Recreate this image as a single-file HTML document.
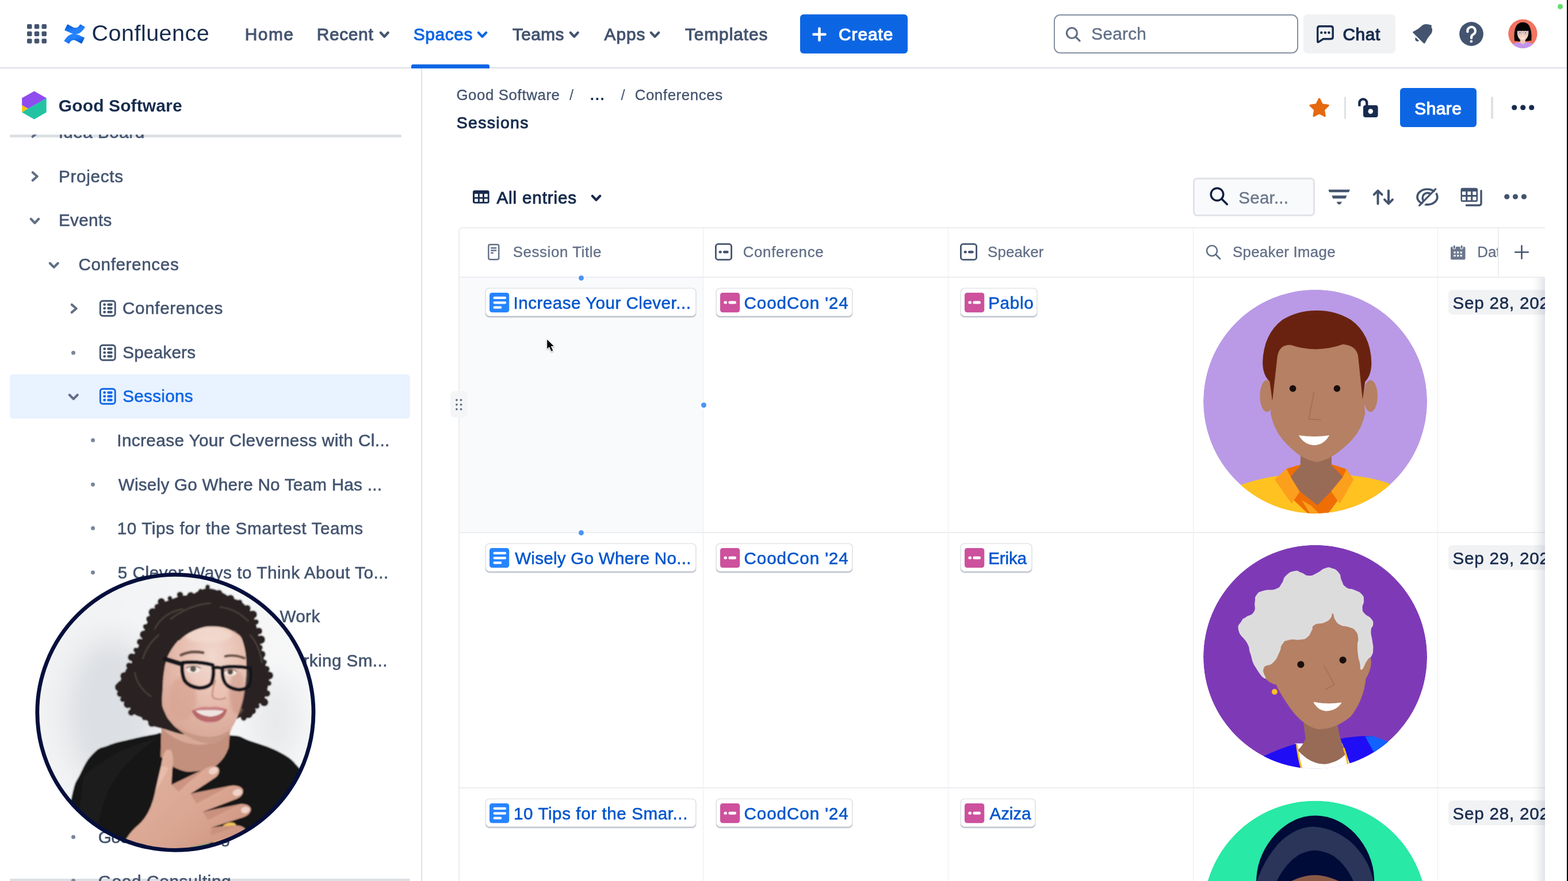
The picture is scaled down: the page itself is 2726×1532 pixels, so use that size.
<!DOCTYPE html>
<html lang="en"><head><meta charset="utf-8"><title>Sessions - Good Software - Confluence</title>
<style>
html,body{margin:0;padding:0;}
body{width:2726px;height:1532px;overflow:hidden;background:#fff;position:relative;font-family:"Liberation Sans",sans-serif;}
.t{position:absolute;white-space:nowrap;line-height:1;}
svg{overflow:visible;}
</style></head>
<body>
<div class="nav" style="position:absolute;left:0px;top:0px;width:2726px;height:119px;background:#fff;"><svg style="position:absolute;left:47px;top:42px;" width="34" height="33.5" viewBox="0 0 34 33.5"><rect x="0.00" y="0.00" width="8.5" height="8.3" rx="2" fill="#44546F"/><rect x="12.75" y="0.00" width="8.5" height="8.3" rx="2" fill="#44546F"/><rect x="25.50" y="0.00" width="8.5" height="8.3" rx="2" fill="#44546F"/><rect x="0.00" y="12.60" width="8.5" height="8.3" rx="2" fill="#44546F"/><rect x="12.75" y="12.60" width="8.5" height="8.3" rx="2" fill="#44546F"/><rect x="25.50" y="12.60" width="8.5" height="8.3" rx="2" fill="#44546F"/><rect x="0.00" y="25.20" width="8.5" height="8.3" rx="2" fill="#44546F"/><rect x="12.75" y="25.20" width="8.5" height="8.3" rx="2" fill="#44546F"/><rect x="25.50" y="25.20" width="8.5" height="8.3" rx="2" fill="#44546F"/></svg><svg style="position:absolute;left:110.8px;top:41.8px;" width="37.3" height="34.2" viewBox="0 0 37.3 34.2"><defs><linearGradient id="lg1" x1="0.1" y1="0" x2="0.75" y2="1"><stop offset="0" stop-color="#0052CC"/><stop offset="0.6" stop-color="#2380FB"/><stop offset="1" stop-color="#2684FF"/></linearGradient></defs><path d="M5.9 0.9 L1.5 9.5 Q1.1 10.4 2 10.9 L12.4 15.6 Q24.6 21.2 33.6 9.9 L36.6 5.7 Q37.1 5 36.4 4.5 L29.1 0.4 Q28.4 0 27.9 0.7 Q23.8 8.6 16.3 5.4 L7 0.5 Q6.3 0.1 5.9 0.9 Z" fill="url(#lg1)"/><path d="M5.9 0.9 L1.5 9.5 Q1.1 10.4 2 10.9 L12.4 15.6 Q24.6 21.2 33.6 9.9 L36.6 5.7 Q37.1 5 36.4 4.5 L29.1 0.4 Q28.4 0 27.9 0.7 Q23.8 8.6 16.3 5.4 L7 0.5 Q6.3 0.1 5.9 0.9 Z" fill="url(#lg1)" transform="rotate(180 18.65 17.1)"/></svg><span class="t" style="left:159.53px;top:37.56px;font-size:39.5px;color:#172B4D;letter-spacing:0.487px;">Confluence</span><span class="t" style="left:425.64px;top:44.77px;font-size:29.8px;color:#44546F;letter-spacing:1.586px;-webkit-text-stroke:1.05px #44546F;">Home</span><span class="t" style="left:550.64px;top:44.77px;font-size:29.8px;color:#44546F;letter-spacing:0.733px;-webkit-text-stroke:1.05px #44546F;">Recent</span><svg style="position:absolute;left:656.5px;top:52px;" width="22.5" height="16.5" viewBox="-3 -3 22.5 16.5"><path d="M1.80 1.80 L8.25 8.70 L14.70 1.80" fill="none" stroke="#44546F" stroke-width="4.2" stroke-linecap="round" stroke-linejoin="round"/></svg><span class="t" style="left:718.68px;top:44.77px;font-size:29.8px;color:#0C66E4;letter-spacing:0.690px;-webkit-text-stroke:1.05px #0C66E4;">Spaces</span><svg style="position:absolute;left:827px;top:52px;" width="23" height="16.5" viewBox="-3 -3 23 16.5"><path d="M1.80 1.80 L8.50 8.70 L15.20 1.80" fill="none" stroke="#0C66E4" stroke-width="4.2" stroke-linecap="round" stroke-linejoin="round"/></svg><span class="t" style="left:890.93px;top:44.77px;font-size:29.8px;color:#44546F;letter-spacing:0.457px;-webkit-text-stroke:1.05px #44546F;">Teams</span><svg style="position:absolute;left:987px;top:52px;" width="22.5" height="16.5" viewBox="-3 -3 22.5 16.5"><path d="M1.80 1.80 L8.25 8.70 L14.70 1.80" fill="none" stroke="#44546F" stroke-width="4.2" stroke-linecap="round" stroke-linejoin="round"/></svg><span class="t" style="left:1050.53px;top:44.77px;font-size:29.8px;color:#44546F;letter-spacing:1.016px;-webkit-text-stroke:1.05px #44546F;">Apps</span><svg style="position:absolute;left:1127px;top:52px;" width="23" height="16.5" viewBox="-3 -3 23 16.5"><path d="M1.80 1.80 L8.50 8.70 L15.20 1.80" fill="none" stroke="#44546F" stroke-width="4.2" stroke-linecap="round" stroke-linejoin="round"/></svg><span class="t" style="left:1190.93px;top:44.77px;font-size:29.8px;color:#44546F;letter-spacing:0.963px;-webkit-text-stroke:1.05px #44546F;">Templates</span><div style="position:absolute;left:1390.5px;top:25px;width:187.5px;height:68px;background:#0C66E4;border-radius:6px;"></div><svg style="position:absolute;left:1412px;top:46.5px;" width="25" height="25.5" viewBox="0 0 25 25.5"><path d="M12.5 2.5v20.5M2.5 12.75h20" stroke="#fff" stroke-width="4.6" stroke-linecap="round" fill="none"/></svg><span class="t" style="left:1458.11px;top:44.77px;font-size:29.8px;color:#fff;letter-spacing:0.946px;-webkit-text-stroke:1.2px #fff;">Create</span><div style="position:absolute;left:1832px;top:25px;width:425px;height:68px;box-sizing:border-box;border:2px solid #8590A2;border-radius:11px;background:#fff;"></div><svg style="position:absolute;left:1852px;top:45.5px;" width="28" height="28" viewBox="0 0 28 28"><circle cx="11.5" cy="11.5" r="9" fill="none" stroke="#626F86" stroke-width="3.2"/><path d="M18.2 18.2L25 25" stroke="#626F86" stroke-width="3.2" stroke-linecap="round"/></svg><span class="t" style="left:1897.36px;top:44.27px;font-size:29.8px;color:#626F86;letter-spacing:0.212px;-webkit-text-stroke:0.4px #626F86;">Search</span><div style="position:absolute;left:2266px;top:25px;width:160px;height:68px;background:#F1F2F4;border-radius:7px;"></div><svg style="position:absolute;left:2289px;top:43.9px;" width="30" height="31.2" viewBox="0 0 30 31.2"><path d="M5.2 1.7 H24.7 Q28.2 1.7 28.2 5.2 V20.3 Q28.2 23.8 24.7 23.8 H11.6 L3.6 28.9 Q1.7 30 1.7 27.9 V5.2 Q1.7 1.7 5.2 1.7 Z" fill="none" stroke="#172B4D" stroke-width="3.4" stroke-linejoin="round"/><circle cx="8.3" cy="12.8" r="2.25" fill="#172B4D"/><circle cx="14.9" cy="12.8" r="2.25" fill="#172B4D"/><circle cx="21.4" cy="12.8" r="2.25" fill="#172B4D"/></svg><span class="t" style="left:2334.41px;top:44.77px;font-size:29.8px;color:#172B4D;letter-spacing:0.620px;-webkit-text-stroke:1.2px #172B4D;">Chat</span><svg style="position:absolute;left:2440px;top:20px;" width="60" height="60" viewBox="0 0 60 60"><g transform="scale(0.06215)"><path d="M262 592 Q250 570 276 558 Q420 498 520 392 Q585 338 682 360 Q725 368 745 375 Q772 368 786 396 Q792 416 776 432 Q832 520 782 612 Q672 730 602 882 Q586 906 564 890 Z" fill="#44546F"/><path d="M340 724 L436 820 Q390 852 344 816 Q310 776 340 724 Z" fill="#44546F"/></g></svg><svg style="position:absolute;left:2536.1px;top:36.8px;" width="44" height="44" viewBox="-22 -22 44 44"><circle cx="0" cy="0" r="20.9" fill="#44546F"/><path d="M-6.6 -3.9 A6.8 6.8 0 1 1 2.9 1 Q0.1 2.7 0.1 5.2 L0.1 7.3" fill="none" stroke="#fff" stroke-width="4.3" stroke-linecap="round"/><circle cx="-0.1" cy="13" r="2.35" fill="#fff"/></svg><svg style="position:absolute;left:2526px;top:0px;" width="200" height="120" viewBox="0 0 200 120"><g transform="scale(0.08288)"><defs><clipPath id="cav0"><circle cx="1465" cy="707" r="306"/></clipPath></defs><g clip-path="url(#cav0)"><circle cx="1465" cy="707" r="306" fill="#F2735F"/><path d="M1290 860 Q1270 640 1330 540 Q1390 465 1465 468 Q1550 465 1600 540 Q1660 650 1645 850 L1520 870 L1400 870 Z" fill="#050505"/><path d="M1250 920 Q1330 885 1465 880 Q1600 885 1680 920 L1720 1030 L1200 1030 Z" fill="#C195EE"/><path d="M1415 830 L1515 830 L1522 890 Q1465 960 1405 890 Z" fill="#F2C4B2"/><path d="M1350 650 L1585 650 Q1590 780 1520 835 Q1465 870 1410 835 Q1340 780 1350 650 Z" fill="#F6D0C0"/><path d="M1335 660 Q1340 590 1400 600 L1400 640 L1420 605 L1440 640 L1500 600 L1515 640 L1545 605 L1560 645 Q1600 600 1595 670 L1600 640 Q1580 560 1465 555 Q1350 560 1335 660 Z" fill="#050505"/><circle cx="1405" cy="688" r="38" fill="rgba(255,255,255,0.25)" stroke="#8E8CC0" stroke-width="9"/><circle cx="1522" cy="688" r="38" fill="rgba(255,255,255,0.25)" stroke="#8E8CC0" stroke-width="9"/><path d="M1443 682 L1484 682" stroke="#8E8CC0" stroke-width="8"/><circle cx="1405" cy="686" r="11" fill="#1b1210"/><circle cx="1522" cy="686" r="11" fill="#1b1210"/><path d="M1428 790 Q1465 798 1502 790 Q1490 820 1465 820 Q1440 820 1428 790 Z" fill="#fff"/></g></g></svg></div>
<div style="position:absolute;left:0px;top:117px;width:2723.5px;height:2px;background:#DDDFE5;"></div>
<div style="position:absolute;left:714.5px;top:112px;width:136.5px;height:6.6px;background:#0C66E4;border-radius:3px 3px 0 0;"></div>
<div class="side" style="position:absolute;left:0px;top:119px;width:732px;height:1413px;background:#fff;overflow:hidden;"><div style="position:absolute;left:0px;top:-119px;width:732px;height:1532px;"><svg style="position:absolute;left:0px;top:0px;" width="100" height="220" viewBox="0 0 100 220"><polygon points="59.5,158.4 80.7,170.5 80.7,171 49,189 38.1,183 38.1,170.5" fill="#8F4CEF"/><polygon points="38.1,182.8 49.2,188.9 38.1,195.3" fill="#F5C518"/><polygon points="80.7,170.8 80.7,195.3 59.5,207.4 38.1,195.3 49,188.9" fill="#22C3A2"/></svg><span class="t" style="left:101.80px;top:169.10px;font-size:30px;color:#172B4D;font-weight:700;letter-spacing:0.121px;">Good Software</span><div style="position:absolute;left:17px;top:234px;width:681px;height:4.5px;background:#DCDFE4;border-radius:3px;"></div><div style="position:absolute;left:17px;top:1527.7px;width:696px;height:4.5px;background:#DCDFE4;border-radius:3px;"></div><div style="position:absolute;left:0px;top:234.2px;width:732px;height:1298px;overflow:hidden;"><div style="position:absolute;left:0px;top:-234.2px;width:732px;height:1532px;"><svg style="position:absolute;left:52px;top:218.5px;" width="17.5" height="23.5" viewBox="-3 -3 17.5 23.5"><path d="M1.80 1.80 L9.70 8.75 L1.80 15.70" fill="none" stroke="#626F86" stroke-width="4.2" stroke-linecap="round" stroke-linejoin="round"/></svg><span class="t" style="left:101.64px;top:215.44px;font-size:29.6px;color:#44546F;letter-spacing:0.527px;-webkit-text-stroke:0.6px #44546F;">Idea Board</span><svg style="position:absolute;left:52px;top:295px;" width="17.5" height="23.5" viewBox="-3 -3 17.5 23.5"><path d="M1.80 1.80 L9.70 8.75 L1.80 15.70" fill="none" stroke="#626F86" stroke-width="4.2" stroke-linecap="round" stroke-linejoin="round"/></svg><span class="t" style="left:101.93px;top:291.94px;font-size:29.6px;color:#44546F;letter-spacing:0.750px;-webkit-text-stroke:0.6px #44546F;">Projects</span><svg style="position:absolute;left:48.5px;top:375.5px;" width="23" height="16.5" viewBox="-3 -3 23 16.5"><path d="M1.80 1.80 L8.50 8.70 L15.20 1.80" fill="none" stroke="#626F86" stroke-width="4.2" stroke-linecap="round" stroke-linejoin="round"/></svg><span class="t" style="left:101.93px;top:368.44px;font-size:29.6px;color:#44546F;letter-spacing:0.395px;-webkit-text-stroke:0.6px #44546F;">Events</span><svg style="position:absolute;left:82px;top:452.5px;" width="23.5" height="16.5" viewBox="-3 -3 23.5 16.5"><path d="M1.80 1.80 L8.75 8.70 L15.70 1.80" fill="none" stroke="#626F86" stroke-width="4.2" stroke-linecap="round" stroke-linejoin="round"/></svg><span class="t" style="left:136.42px;top:444.94px;font-size:29.6px;color:#44546F;letter-spacing:0.648px;-webkit-text-stroke:0.6px #44546F;">Conferences</span><svg style="position:absolute;left:120px;top:525px;" width="17.5" height="23" viewBox="-3 -3 17.5 23"><path d="M1.80 1.80 L9.70 8.50 L1.80 15.20" fill="none" stroke="#626F86" stroke-width="4.2" stroke-linecap="round" stroke-linejoin="round"/></svg><svg style="position:absolute;left:173px;top:522px;" width="28.5" height="28.5" viewBox="0 0 28.5 28.5"><rect x="1.3" y="1.3" width="25.9" height="25.9" rx="4.2" fill="none" stroke="#44546F" stroke-width="2.9"/><rect x="6.4" y="5.50" width="4.6" height="4.2" rx="1.6" fill="#44546F"/><rect x="13.4" y="5.50" width="9.2" height="4.2" rx="1.6" fill="#44546F"/><rect x="6.4" y="12.00" width="4.6" height="4.2" rx="1.6" fill="#44546F"/><rect x="13.4" y="12.00" width="9.2" height="4.2" rx="1.6" fill="#44546F"/><rect x="6.4" y="18.50" width="4.6" height="4.2" rx="1.6" fill="#44546F"/><rect x="13.4" y="18.50" width="9.2" height="4.2" rx="1.6" fill="#44546F"/></svg><span class="t" style="left:213.12px;top:521.44px;font-size:29.6px;color:#44546F;letter-spacing:0.628px;-webkit-text-stroke:0.6px #44546F;">Conferences</span><div style="position:absolute;left:124px;top:609.5px;width:7px;height:7px;background:#7A869A;border-radius:50%;"></div><svg style="position:absolute;left:173px;top:598.5px;" width="28.5" height="28.5" viewBox="0 0 28.5 28.5"><rect x="1.3" y="1.3" width="25.9" height="25.9" rx="4.2" fill="none" stroke="#44546F" stroke-width="2.9"/><rect x="6.4" y="5.50" width="4.6" height="4.2" rx="1.6" fill="#44546F"/><rect x="13.4" y="5.50" width="9.2" height="4.2" rx="1.6" fill="#44546F"/><rect x="6.4" y="12.00" width="4.6" height="4.2" rx="1.6" fill="#44546F"/><rect x="13.4" y="12.00" width="9.2" height="4.2" rx="1.6" fill="#44546F"/><rect x="6.4" y="18.50" width="4.6" height="4.2" rx="1.6" fill="#44546F"/><rect x="13.4" y="18.50" width="9.2" height="4.2" rx="1.6" fill="#44546F"/></svg><span class="t" style="left:213.27px;top:597.94px;font-size:29.6px;color:#44546F;letter-spacing:0.244px;-webkit-text-stroke:0.6px #44546F;">Speakers</span><div style="position:absolute;left:17px;top:651px;width:696px;height:76.5px;background:#E9F2FF;border-radius:6px;"></div><svg style="position:absolute;left:116px;top:682px;" width="23.5" height="16.5" viewBox="-3 -3 23.5 16.5"><path d="M1.80 1.80 L8.75 8.70 L15.70 1.80" fill="none" stroke="#626F86" stroke-width="4.2" stroke-linecap="round" stroke-linejoin="round"/></svg><svg style="position:absolute;left:173px;top:675px;" width="28.5" height="28.5" viewBox="0 0 28.5 28.5"><rect x="1.3" y="1.3" width="25.9" height="25.9" rx="4.2" fill="none" stroke="#0C66E4" stroke-width="2.9"/><rect x="6.4" y="5.50" width="4.6" height="4.2" rx="1.6" fill="#0C66E4"/><rect x="13.4" y="5.50" width="9.2" height="4.2" rx="1.6" fill="#0C66E4"/><rect x="6.4" y="12.00" width="4.6" height="4.2" rx="1.6" fill="#0C66E4"/><rect x="13.4" y="12.00" width="9.2" height="4.2" rx="1.6" fill="#0C66E4"/><rect x="6.4" y="18.50" width="4.6" height="4.2" rx="1.6" fill="#0C66E4"/><rect x="13.4" y="18.50" width="9.2" height="4.2" rx="1.6" fill="#0C66E4"/></svg><span class="t" style="left:213.27px;top:674.44px;font-size:29.6px;color:#0C66E4;letter-spacing:0.299px;-webkit-text-stroke:0.6px #0C66E4;">Sessions</span><div style="position:absolute;left:158px;top:762.3px;width:7px;height:7px;background:#7A869A;border-radius:50%;"></div><span class="t" style="left:203.24px;top:751.44px;font-size:29.6px;color:#44546F;letter-spacing:0.446px;-webkit-text-stroke:0.6px #44546F;">Increase Your Cleverness with Cl...</span><div style="position:absolute;left:158px;top:838.8px;width:7px;height:7px;background:#7A869A;border-radius:50%;"></div><span class="t" style="left:205.75px;top:827.94px;font-size:29.6px;color:#44546F;letter-spacing:0.268px;-webkit-text-stroke:0.6px #44546F;">Wisely Go Where No Team Has ...</span><div style="position:absolute;left:158px;top:915.3px;width:7px;height:7px;background:#7A869A;border-radius:50%;"></div><span class="t" style="left:203.68px;top:904.44px;font-size:29.6px;color:#44546F;letter-spacing:0.637px;-webkit-text-stroke:0.6px #44546F;">10 Tips for the Smartest Teams</span><div style="position:absolute;left:158px;top:991.8px;width:7px;height:7px;background:#7A869A;border-radius:50%;"></div><span class="t" style="left:204.72px;top:980.94px;font-size:29.6px;color:#44546F;letter-spacing:0.570px;-webkit-text-stroke:0.6px #44546F;">5 Clever Ways to Think About To...</span><div style="position:absolute;left:158px;top:1068.3px;width:7px;height:7px;background:#7A869A;border-radius:50%;"></div><span class="t" style="left:177.33px;top:1057.44px;font-size:29.6px;color:#44546F;letter-spacing:0.438px;-webkit-text-stroke:0.6px #44546F;">The Smartest Ways to Work</span><div style="position:absolute;left:158px;top:1144.8px;width:7px;height:7px;background:#7A869A;border-radius:50%;"></div><span class="t" style="left:147.91px;top:1133.94px;font-size:29.6px;color:#44546F;letter-spacing:0.441px;-webkit-text-stroke:0.6px #44546F;">How to Keep Your Team Working Sm...</span><div style="position:absolute;left:124px;top:1451.8px;width:7.2px;height:7.2px;background:#7A869A;border-radius:50%;"></div><span class="t" style="left:170.82px;top:1440.94px;font-size:29.6px;color:#44546F;letter-spacing:-0.618px;-webkit-text-stroke:0.6px #44546F;">Good Engineering</span><div style="position:absolute;left:124px;top:1528.3px;width:7.2px;height:7.2px;background:#7A869A;border-radius:50%;"></div><span class="t" style="left:170.82px;top:1518.14px;font-size:29.6px;color:#44546F;letter-spacing:0.735px;-webkit-text-stroke:0.6px #44546F;">Good Consulting</span></div></div></div></div>
<div style="position:absolute;left:732px;top:119px;width:2px;height:1413px;background:#DFE1E6;"></div>
<span class="t" style="left:793.38px;top:153.16px;font-size:25.8px;color:#44546F;letter-spacing:0.626px;-webkit-text-stroke:0.35px #44546F;">Good Software</span>
<span class="t" style="left:990.00px;top:153.16px;font-size:25.8px;color:#44546F;">/</span>
<span class="t" style="left:1025.82px;top:153.16px;font-size:25.8px;color:#172B4D;font-weight:700;letter-spacing:1.720px;">...</span>
<span class="t" style="left:1079.50px;top:153.16px;font-size:25.8px;color:#44546F;">/</span>
<span class="t" style="left:1103.63px;top:153.16px;font-size:25.8px;color:#44546F;letter-spacing:0.631px;-webkit-text-stroke:0.35px #44546F;">Conferences</span>
<span class="t" style="left:793.72px;top:198.96px;font-size:28.4px;color:#172B4D;letter-spacing:1.353px;-webkit-text-stroke:1.0px #172B4D;">Sessions</span>
<svg style="position:absolute;left:2260px;top:145px;" width="60" height="70" viewBox="0 0 60 70"><g transform="scale(0.06215)"><polygon points="541.0,436.0 618.6,591.2 790.2,617.0 666.5,738.8 695.0,910.0 541.0,830.0 387.0,910.0 415.5,738.8 291.8,617.0 463.4,591.2" fill="#E56910" stroke="#E56910" stroke-width="52" stroke-linejoin="round"/></g></svg>
<div style="position:absolute;left:2336.5px;top:168px;width:3.5px;height:38.5px;background:#DFE1E6;border-radius:2px;"></div>
<svg style="position:absolute;left:0px;top:0px;" width="2420" height="220" viewBox="0 0 2420 220"><rect x="2370" y="182.9" width="25.6" height="21.2" rx="4" fill="#172B4D"/><circle cx="2382.8" cy="193.6" r="4.3" fill="#fff"/><path d="M2363.4 184.8 V178.8 A6.45 6.45 0 0 1 2376.3 178.8 V184" fill="none" stroke="#172B4D" stroke-width="4.3"/></svg>
<div style="position:absolute;left:2434px;top:153px;width:132.5px;height:68px;background:#0C66E4;border-radius:6px;"></div>
<span class="t" style="left:2459.26px;top:173.77px;font-size:29.8px;color:#fff;letter-spacing:0.516px;-webkit-text-stroke:1.2px #fff;">Share</span>
<div style="position:absolute;left:2592px;top:168px;width:3.5px;height:38.5px;background:#DFE1E6;border-radius:2px;"></div>
<svg style="position:absolute;left:2627.5px;top:182px;" width="39.5" height="10" viewBox="0 0 39.5 10"><circle cx="4.7" cy="5" r="4.6" fill="#172B4D"/><circle cx="19.7" cy="5" r="4.6" fill="#172B4D"/><circle cx="34.7" cy="5" r="4.6" fill="#172B4D"/></svg>
<svg style="position:absolute;left:822.1px;top:331.1px;" width="28.6" height="22.8" viewBox="0 0 28.6 22.8"><rect x="0" y="0" width="28.6" height="22.8" rx="3.2" fill="#172B4D"/><rect x="3.1" y="6.1" width="5.8" height="5.7" fill="#fff"/><rect x="3.1" y="14.6" width="5.8" height="5.4" fill="#fff"/><rect x="11.8" y="6.1" width="5.2" height="5.7" fill="#fff"/><rect x="11.8" y="14.6" width="5.2" height="5.4" fill="#fff"/><rect x="19.9" y="6.1" width="5.9" height="5.7" fill="#fff"/><rect x="19.9" y="14.6" width="5.9" height="5.4" fill="#fff"/></svg>
<span class="t" style="left:863.50px;top:328.94px;font-size:29.6px;color:#172B4D;letter-spacing:0.859px;-webkit-text-stroke:1.0px #172B4D;">All entries</span>
<svg style="position:absolute;left:1025px;top:336px;" width="23" height="16.5" viewBox="-3 -3 23 16.5"><path d="M1.80 1.80 L8.50 8.70 L15.20 1.80" fill="none" stroke="#172B4D" stroke-width="4.2" stroke-linecap="round" stroke-linejoin="round"/></svg>
<div style="position:absolute;left:2073.5px;top:309px;width:212px;height:66.5px;box-sizing:border-box;border:3px solid #E1E3E8;border-radius:7px;background:#F9FAFB;"></div>
<svg style="position:absolute;left:2102px;top:324px;" width="35" height="35" viewBox="0 0 35 35"><circle cx="14" cy="14" r="10.8" fill="none" stroke="#091E42" stroke-width="3.4"/><path d="M22 22L31.3 31.3" stroke="#091E42" stroke-width="3.6" stroke-linecap="round"/></svg>
<span class="t" style="left:2153.37px;top:328.69px;font-size:29.6px;color:#6B778C;letter-spacing:0.175px;-webkit-text-stroke:0.4px #6B778C;">Sear...</span>
<svg style="position:absolute;left:0px;top:0px;" width="2700" height="400" viewBox="0 0 2700 400"><path d="M2309.9 330 H2346.6 L2344.8 334 H2311 Z" fill="#44546F" stroke="#44546F" stroke-width="0.6" stroke-linejoin="round"/><path d="M2315.8 340.3 H2341 L2339.2 344.9 H2317.4 Z" fill="#44546F" stroke="#44546F" stroke-width="0.6" stroke-linejoin="round"/><path d="M2324.1 351.2 H2332.4 L2330.6 354.6 Q2328.2 355.8 2326 354.6 Z" fill="#44546F" stroke="#44546F" stroke-width="0.6" stroke-linejoin="round"/><path d="M2395.5 354.2 V332 M2388.7 338.4 L2395.5 331.6 L2402.6 338.4" fill="none" stroke="#44546F" stroke-width="4" stroke-linecap="round" stroke-linejoin="round"/><path d="M2414 331.5 V353.6 M2407 347.2 L2414 354.2 L2421 347.2" fill="none" stroke="#44546F" stroke-width="4" stroke-linecap="round" stroke-linejoin="round"/><ellipse cx="2481.4" cy="342.4" rx="17.4" ry="13.4" fill="none" stroke="#44546F" stroke-width="3.7"/><path d="M2476 350.5 A7 7 0 0 1 2487.5 337.6" fill="none" stroke="#44546F" stroke-width="3.6"/><path d="M2470.8 359.6 L2499.4 330.4" stroke="#fff" stroke-width="3.6"/><path d="M2467.6 357.4 L2495.8 328.6" stroke="#44546F" stroke-width="3.2" stroke-linecap="round"/><rect x="2539.5" y="326.8" width="29.6" height="24.3" rx="3.4" fill="#44546F"/><rect x="2542" y="333" width="6.2" height="6.0" fill="#fff"/><rect x="2542" y="342.1" width="6.2" height="6.2" fill="#fff"/><rect x="2551.3" y="333" width="5.9" height="6.0" fill="#fff"/><rect x="2551.3" y="342.1" width="5.9" height="6.2" fill="#fff"/><rect x="2560.3" y="333" width="6.2" height="6.0" fill="#fff"/><rect x="2560.3" y="342.1" width="6.2" height="6.2" fill="#fff"/><path d="M2575 331.8 V353.6 Q2575 357 2571.6 357 H2549.4" fill="none" stroke="#44546F" stroke-width="3.4" stroke-linecap="round"/></svg>
<svg style="position:absolute;left:2615px;top:337px;" width="39.5" height="10" viewBox="0 0 39.5 10"><circle cx="4.7" cy="5" r="4.6" fill="#44546F"/><circle cx="19.5" cy="5" r="4.6" fill="#44546F"/><circle cx="34.4" cy="5" r="4.6" fill="#44546F"/></svg>
<div style="position:absolute;left:780px;top:380px;width:1906px;height:1152px;overflow:hidden;"><div style="position:absolute;left:-780px;top:-380px;width:2726px;height:1600px;"><div style="position:absolute;left:798.5px;top:483px;width:424px;height:443px;background:#F9FAFB;"></div><div style="position:absolute;left:796.5px;top:394.5px;width:1895px;height:1200px;box-sizing:border-box;border:2px solid #ECEDF0;border-radius:7px;"></div><div style="position:absolute;left:798.5px;top:481.2px;width:1890px;height:1.7px;background:#ECEDF0;"></div><div style="position:absolute;left:798.5px;top:925.2px;width:1890px;height:1.7px;background:#ECEDF0;"></div><div style="position:absolute;left:798.5px;top:1369.2px;width:1890px;height:1.7px;background:#ECEDF0;"></div><div style="position:absolute;left:1221.7px;top:396.5px;width:1.7px;height:1200px;background:#ECEDF0;"></div><div style="position:absolute;left:1647.7px;top:396.5px;width:1.7px;height:1200px;background:#ECEDF0;"></div><div style="position:absolute;left:2073.7px;top:396.5px;width:1.7px;height:1200px;background:#ECEDF0;"></div><div style="position:absolute;left:2498.7px;top:396.5px;width:1.7px;height:1200px;background:#ECEDF0;"></div><svg style="position:absolute;left:847.75px;top:424px;" width="20.5" height="28.5" viewBox="0 0 20.5 28.5"><rect x="1.3" y="1.3" width="17.9" height="25.9" rx="2.6" fill="none" stroke="#626F86" stroke-width="2.4"/><path d="M5.2 7.2h10M5.2 11.5h10M5.2 15.8h4.6" stroke="#626F86" stroke-width="2.5" fill="none"/></svg><span class="t" style="left:891.76px;top:425.66px;font-size:25.8px;color:#626F86;letter-spacing:0.620px;-webkit-text-stroke:0.35px #626F86;">Session Title</span><svg style="position:absolute;left:1243px;top:423px;" width="30" height="30" viewBox="0 0 30 30"><rect x="1.4" y="1.4" width="27.2" height="27.2" rx="4.2" fill="none" stroke="#44546F" stroke-width="2.8"/><rect x="6.6" y="13" width="5.2" height="4.4" rx="2" fill="#44546F"/><rect x="14" y="13" width="9.6" height="4.4" rx="2" fill="#44546F"/></svg><span class="t" style="left:1291.63px;top:425.66px;font-size:25.8px;color:#626F86;letter-spacing:0.746px;-webkit-text-stroke:0.35px #626F86;">Conference</span><svg style="position:absolute;left:1668.5px;top:423px;" width="30" height="30" viewBox="0 0 30 30"><rect x="1.4" y="1.4" width="27.2" height="27.2" rx="4.2" fill="none" stroke="#44546F" stroke-width="2.8"/><rect x="6.6" y="13" width="5.2" height="4.4" rx="2" fill="#44546F"/><rect x="14" y="13" width="9.6" height="4.4" rx="2" fill="#44546F"/></svg><span class="t" style="left:1717.01px;top:425.66px;font-size:25.8px;color:#626F86;letter-spacing:0.204px;-webkit-text-stroke:0.35px #626F86;">Speaker</span><svg style="position:absolute;left:2095.5px;top:425px;" width="27" height="27" viewBox="0 0 27 27"><circle cx="11" cy="11" r="9" fill="none" stroke="#626F86" stroke-width="2.6"/><path d="M17.6 17.6L25 25" stroke="#626F86" stroke-width="2.8" stroke-linecap="round"/></svg><span class="t" style="left:2143.01px;top:425.66px;font-size:25.8px;color:#626F86;letter-spacing:0.296px;-webkit-text-stroke:0.35px #626F86;">Speaker Image</span><svg style="position:absolute;left:2522px;top:425.5px;" width="25.5" height="25.5" viewBox="0 0 25.5 25.5"><rect x="0" y="3" width="25.5" height="22.5" rx="2.6" fill="#6B778C"/><rect x="4.2" y="0" width="4.2" height="7" rx="2.1" fill="#6B778C" stroke="#fff" stroke-width="1.2"/><rect x="17" y="0" width="4.2" height="7" rx="2.1" fill="#6B778C" stroke="#fff" stroke-width="1.2"/><rect x="5.4" y="11.4" width="3.2" height="3.2" fill="#fff"/><rect x="11.0" y="11.4" width="3.2" height="3.2" fill="#fff"/><rect x="16.6" y="11.4" width="3.2" height="3.2" fill="#fff"/><rect x="5.4" y="17.0" width="3.2" height="3.2" fill="#fff"/><rect x="11.0" y="17.0" width="3.2" height="3.2" fill="#fff"/><rect x="16.6" y="17.0" width="3.2" height="3.2" fill="#fff"/></svg><span class="t" style="left:2568.36px;top:425.66px;font-size:25.8px;color:#626F86;-webkit-text-stroke:0.35px #626F86;">Date</span><div style="position:absolute;left:844.2px;top:501.2px;width:365.6px;height:48.6px;box-sizing:border-box;background:#fff;border:1px solid #E2E4E9;border-radius:7px;box-shadow:0 1.5px 1.5px rgba(9,30,66,0.26),0 0 1.5px rgba(9,30,66,0.22);"></div><svg style="position:absolute;left:851.0px;top:508.5px;" width="34.25" height="34.25" viewBox="0 0 34.25 34.25"><rect width="34.25" height="34.25" rx="4.6" fill="#2684FF"/><path d="M8.6 8.9h18.4M8.6 17.3h18.4M8.6 25.7h10.6" stroke="#fff" stroke-width="4.2" stroke-linecap="round" fill="none"/></svg><span class="t" style="left:892.61px;top:511.94px;font-size:29.6px;color:#0055CC;letter-spacing:0.477px;-webkit-text-stroke:0.55px #0055CC;">Increase Your Clever...</span><div style="position:absolute;left:1244.7px;top:501.2px;width:237.6px;height:48.6px;box-sizing:border-box;background:#fff;border:1px solid #E2E4E9;border-radius:7px;box-shadow:0 1.5px 1.5px rgba(9,30,66,0.26),0 0 1.5px rgba(9,30,66,0.22);"></div><svg style="position:absolute;left:1251.5px;top:508.5px;" width="34.25" height="34.25" viewBox="0 0 34.25 34.25"><rect width="34.25" height="34.25" rx="4.6" fill="#CD519D"/><rect x="6.4" y="14.6" width="5.6" height="5" rx="2.3" fill="#fff"/><rect x="14.4" y="14.6" width="13.6" height="5" rx="2.3" fill="#fff"/></svg><span class="t" style="left:1293.55px;top:511.94px;font-size:29.6px;color:#0055CC;letter-spacing:0.924px;-webkit-text-stroke:0.55px #0055CC;">CoodCon '24</span><div style="position:absolute;left:1670.2px;top:501.2px;width:133.1px;height:48.6px;box-sizing:border-box;background:#fff;border:1px solid #E2E4E9;border-radius:7px;box-shadow:0 1.5px 1.5px rgba(9,30,66,0.26),0 0 1.5px rgba(9,30,66,0.22);"></div><svg style="position:absolute;left:1677.0px;top:508.5px;" width="34.25" height="34.25" viewBox="0 0 34.25 34.25"><rect width="34.25" height="34.25" rx="4.6" fill="#CD519D"/><rect x="6.4" y="14.6" width="5.6" height="5" rx="2.3" fill="#fff"/><rect x="14.4" y="14.6" width="13.6" height="5" rx="2.3" fill="#fff"/></svg><span class="t" style="left:1718.16px;top:511.94px;font-size:29.6px;color:#0055CC;letter-spacing:0.718px;-webkit-text-stroke:0.55px #0055CC;">Pablo</span><div style="position:absolute;left:2517.75px;top:503.75px;width:200px;height:43.5px;background:#F1F2F4;border-radius:7px;"></div><span class="t" style="left:2525.42px;top:511.94px;font-size:29.6px;color:#172B4D;letter-spacing:0.782px;-webkit-text-stroke:0.5px #172B4D;">Sep 28, 2024</span><div style="position:absolute;left:844.2px;top:945.2px;width:365.6px;height:48.6px;box-sizing:border-box;background:#fff;border:1px solid #E2E4E9;border-radius:7px;box-shadow:0 1.5px 1.5px rgba(9,30,66,0.26),0 0 1.5px rgba(9,30,66,0.22);"></div><svg style="position:absolute;left:851.0px;top:952.5px;" width="34.25" height="34.25" viewBox="0 0 34.25 34.25"><rect width="34.25" height="34.25" rx="4.6" fill="#2684FF"/><path d="M8.6 8.9h18.4M8.6 17.3h18.4M8.6 25.7h10.6" stroke="#fff" stroke-width="4.2" stroke-linecap="round" fill="none"/></svg><span class="t" style="left:895.13px;top:955.94px;font-size:29.6px;color:#0055CC;letter-spacing:0.269px;-webkit-text-stroke:0.55px #0055CC;">Wisely Go Where No...</span><div style="position:absolute;left:1244.7px;top:945.2px;width:237.6px;height:48.6px;box-sizing:border-box;background:#fff;border:1px solid #E2E4E9;border-radius:7px;box-shadow:0 1.5px 1.5px rgba(9,30,66,0.26),0 0 1.5px rgba(9,30,66,0.22);"></div><svg style="position:absolute;left:1251.5px;top:952.5px;" width="34.25" height="34.25" viewBox="0 0 34.25 34.25"><rect width="34.25" height="34.25" rx="4.6" fill="#CD519D"/><rect x="6.4" y="14.6" width="5.6" height="5" rx="2.3" fill="#fff"/><rect x="14.4" y="14.6" width="13.6" height="5" rx="2.3" fill="#fff"/></svg><span class="t" style="left:1293.55px;top:955.94px;font-size:29.6px;color:#0055CC;letter-spacing:0.924px;-webkit-text-stroke:0.55px #0055CC;">CoodCon '24</span><div style="position:absolute;left:1670.2px;top:945.2px;width:123.6px;height:48.6px;box-sizing:border-box;background:#fff;border:1px solid #E2E4E9;border-radius:7px;box-shadow:0 1.5px 1.5px rgba(9,30,66,0.26),0 0 1.5px rgba(9,30,66,0.22);"></div><svg style="position:absolute;left:1677.0px;top:952.5px;" width="34.25" height="34.25" viewBox="0 0 34.25 34.25"><rect width="34.25" height="34.25" rx="4.6" fill="#CD519D"/><rect x="6.4" y="14.6" width="5.6" height="5" rx="2.3" fill="#fff"/><rect x="14.4" y="14.6" width="13.6" height="5" rx="2.3" fill="#fff"/></svg><span class="t" style="left:1718.16px;top:955.94px;font-size:29.6px;color:#0055CC;letter-spacing:-0.130px;-webkit-text-stroke:0.55px #0055CC;">Erika</span><div style="position:absolute;left:2517.75px;top:947.75px;width:200px;height:43.5px;background:#F1F2F4;border-radius:7px;"></div><span class="t" style="left:2525.42px;top:955.94px;font-size:29.6px;color:#172B4D;letter-spacing:0.782px;-webkit-text-stroke:0.5px #172B4D;">Sep 29, 2024</span><div style="position:absolute;left:844.2px;top:1389.2px;width:365.6px;height:48.6px;box-sizing:border-box;background:#fff;border:1px solid #E2E4E9;border-radius:7px;box-shadow:0 1.5px 1.5px rgba(9,30,66,0.26),0 0 1.5px rgba(9,30,66,0.22);"></div><svg style="position:absolute;left:851.0px;top:1396.5px;" width="34.25" height="34.25" viewBox="0 0 34.25 34.25"><rect width="34.25" height="34.25" rx="4.6" fill="#2684FF"/><path d="M8.6 8.9h18.4M8.6 17.3h18.4M8.6 25.7h10.6" stroke="#fff" stroke-width="4.2" stroke-linecap="round" fill="none"/></svg><span class="t" style="left:893.05px;top:1399.94px;font-size:29.6px;color:#0055CC;letter-spacing:0.584px;-webkit-text-stroke:0.55px #0055CC;">10 Tips for the Smar...</span><div style="position:absolute;left:1244.7px;top:1389.2px;width:237.6px;height:48.6px;box-sizing:border-box;background:#fff;border:1px solid #E2E4E9;border-radius:7px;box-shadow:0 1.5px 1.5px rgba(9,30,66,0.26),0 0 1.5px rgba(9,30,66,0.22);"></div><svg style="position:absolute;left:1251.5px;top:1396.5px;" width="34.25" height="34.25" viewBox="0 0 34.25 34.25"><rect width="34.25" height="34.25" rx="4.6" fill="#CD519D"/><rect x="6.4" y="14.6" width="5.6" height="5" rx="2.3" fill="#fff"/><rect x="14.4" y="14.6" width="13.6" height="5" rx="2.3" fill="#fff"/></svg><span class="t" style="left:1293.55px;top:1399.94px;font-size:29.6px;color:#0055CC;letter-spacing:0.924px;-webkit-text-stroke:0.55px #0055CC;">CoodCon '24</span><div style="position:absolute;left:1670.2px;top:1389.2px;width:130.1px;height:48.6px;box-sizing:border-box;background:#fff;border:1px solid #E2E4E9;border-radius:7px;box-shadow:0 1.5px 1.5px rgba(9,30,66,0.26),0 0 1.5px rgba(9,30,66,0.22);"></div><svg style="position:absolute;left:1677.0px;top:1396.5px;" width="34.25" height="34.25" viewBox="0 0 34.25 34.25"><rect width="34.25" height="34.25" rx="4.6" fill="#CD519D"/><rect x="6.4" y="14.6" width="5.6" height="5" rx="2.3" fill="#fff"/><rect x="14.4" y="14.6" width="13.6" height="5" rx="2.3" fill="#fff"/></svg><span class="t" style="left:1720.53px;top:1399.94px;font-size:29.6px;color:#0055CC;letter-spacing:-0.105px;-webkit-text-stroke:0.55px #0055CC;">Aziza</span><div style="position:absolute;left:2517.75px;top:1391.75px;width:200px;height:43.5px;background:#F1F2F4;border-radius:7px;"></div><span class="t" style="left:2525.42px;top:1399.94px;font-size:29.6px;color:#172B4D;letter-spacing:0.782px;-webkit-text-stroke:0.5px #172B4D;">Sep 28, 2024</span><svg style="position:absolute;left:2086px;top:498px;" width="400" height="400" viewBox="0 0 400 400"><defs><clipPath id="cav1"><circle cx="726" cy="725" r="704"/></clipPath></defs><g transform="scale(0.27624)"><g clip-path="url(#cav1)"><circle cx="726" cy="725" r="704" fill="#BA9AE6"/><path d="M255 1250 Q400 1200 520 1190 L950 1190 Q1100 1205 1200 1245 L1330 1460 L120 1460 Z" fill="#FFC220"/><path d="M545 1148 L632 1122 L838 1122 L922 1150 L965 1215 L800 1440 L690 1440 L585 1340 Z" fill="#EE6E05"/><path d="M633 1040 L633 1130 Q600 1160 572 1200 L628 1290 L740 1378 L826 1290 L900 1200 Q866 1160 829 1128 L829 1040 Z" fill="#986B57"/><path d="M545 1148 L470 1215 L578 1368 L628 1292 L572 1200 Z" fill="#FC9F1C"/><path d="M922 1150 L968 1215 L880 1368 L826 1290 L900 1200 Z" fill="#FC9F1C"/><path d="M640 1345 L700 1380 L760 1440 L700 1440 Z" fill="#FC9F1C"/><ellipse cx="422" cy="690" rx="44" ry="100" fill="#B58063"/><ellipse cx="1074" cy="690" rx="44" ry="100" fill="#B58063"/><path d="M470 400 Q600 330 735 350 Q870 330 1010 400 L1040 800 Q1015 930 902 1018 Q820 1092 735 1106 Q650 1092 573 1018 Q470 930 445 800 Z" fill="#B58063"/><path d="M456 722 L440 600 Q396 560 395 480 Q400 300 520 210 Q620 150 735 152 Q850 150 950 210 Q1075 300 1080 480 Q1080 560 1040 600 L1024 712 L996 440 Q985 372 900 365 Q735 424 570 368 Q500 366 488 440 Z" fill="#6A2210"/><circle cx="585" cy="643" r="21" fill="#1a0f0c"/><circle cx="863" cy="643" r="21" fill="#1a0f0c"/><path d="M718 665 L686 835 L760 840" fill="none" stroke="#986B57" stroke-width="4.5" stroke-linejoin="round" stroke-linecap="round"/><path d="M622 938 Q720 952 815 938 Q780 1000 715 1000 Q655 995 622 938 Z" fill="#fff"/></g></g></svg><svg style="position:absolute;left:2086px;top:942px;" width="400" height="400" viewBox="0 0 400 400"><defs><clipPath id="cav2"><circle cx="726" cy="725" r="704"/></clipPath></defs><g transform="scale(0.27624)"><g clip-path="url(#cav2)"><circle cx="726" cy="725" r="704" fill="#7E3AB6"/><path d="M600 1270 L950 1270 L960 1450 L620 1450 Z" fill="#fff"/><path d="M380 1360 Q500 1300 607 1272 L640 1440 L380 1440 Z" fill="#1F0EF5"/><path d="M885 1240 Q1000 1218 1090 1225 L1190 1262 L1100 1340 L945 1400 Z" fill="#1F0EF5"/><path d="M1040 1226 L1090 1224 L1195 1262 L1098 1330 Z" fill="#1162FE"/><path d="M652 1140 L665 1240 Q645 1290 615 1312 Q700 1405 790 1400 Q880 1385 922 1330 Q880 1260 868 1150 Z" fill="#986B57"/><path d="M610 1278 Q620 1360 640 1428" fill="none" stroke="#F9BB1E" stroke-width="11"/><path d="M905 1298 Q925 1350 932 1402" fill="none" stroke="#F9BB1E" stroke-width="11"/><path d="M400 800 Q460 760 490 700 Q520 630 620 615 Q680 590 720 525 Q800 500 840 450 Q880 520 960 550 Q1000 600 1000 700 L1020 800 Q1040 740 1075 730 Q1088 790 1045 862 Q1030 1000 950 1100 Q850 1185 740 1180 Q650 1160 570 1050 Q500 950 480 900 Q395 880 400 800 Z" fill="#B58063"/><path d="M1006 760 L996 716.8 L991.6 650 L996 605 L978 560 L937.6 537.7 L883.6 524 L852 492.7 L836.4 452 L820.6 483.7 L784.6 508.5 L721.6 524 L703.6 560 L676.6 600.7 L631.6 616.5 L559.6 618.7 L519 645.7 L501 695 L462 760 L402 796 L420 860 L700 1000 L1020 860 Z" fill="#B58063" stroke="#B58063" stroke-width="14" stroke-linejoin="round"/><path d="M412.0 862.0 C397.3 860.3 376.6 834.5 350.0 790.0 C323.4 745.5 332.7 747.5 318.0 705.0 C303.3 662.5 319.0 681.1 298.0 640.0 C277.0 598.9 254.2 599.7 244.0 560.0 C233.8 520.3 249.1 524.2 262.0 500.0 C274.9 475.8 267.8 490.8 289.6 474.7 C311.4 458.6 323.0 469.8 339.0 443.0 C355.0 416.2 340.8 410.6 345.9 380.0 C351.0 349.4 341.1 355.4 357.0 335.0 C372.9 314.6 367.5 318.8 402.0 308.0 C436.5 297.2 446.7 309.8 478.6 297.0 C510.5 284.2 496.8 286.6 514.6 263.0 C532.5 239.4 518.6 235.9 541.6 213.7 C564.6 191.5 567.6 189.6 595.6 184.5 C623.6 179.4 615.1 187.4 640.6 195.7 C666.1 204.0 657.6 213.7 685.6 213.7 C713.6 213.7 711.6 208.4 739.6 195.7 C767.6 182.9 759.1 177.0 784.6 168.7 C810.1 160.4 804.1 158.8 829.6 166.5 C855.1 174.2 856.8 173.5 874.6 195.7 C892.5 217.9 879.9 219.5 892.6 245.0 C905.4 270.5 896.6 269.1 919.6 285.7 C942.6 302.3 945.6 290.9 973.6 303.7 C1001.6 316.4 1002.1 311.6 1018.6 330.7 C1035.1 349.8 1030.8 346.8 1032.0 371.0 C1033.2 395.2 1021.7 393.1 1023.0 416.0 C1024.3 438.9 1021.3 432.8 1036.6 452.0 C1051.9 471.2 1061.7 464.5 1077.0 483.7 C1092.3 502.9 1090.6 498.1 1090.6 519.7 C1090.6 541.3 1078.3 529.4 1077.0 560.0 C1075.7 590.6 1082.1 595.8 1086.0 627.7 C1089.9 659.6 1091.8 647.5 1090.6 672.7 C1089.4 697.9 1092.5 695.5 1081.6 716.8 C1070.7 738.1 1070.0 722.7 1052.0 748.0 C1034.0 773.3 1031.0 802.6 1018.0 806.0 C1005.0 809.4 1012.2 785.3 1006.0 760.0 C999.8 734.7 1000.1 748.0 996.0 716.8 C991.9 685.6 991.6 681.7 991.6 650.0 C991.6 618.3 999.9 630.5 996.0 605.0 C992.1 579.5 994.5 579.1 978.0 560.0 C961.5 540.9 964.3 547.9 937.6 537.7 C910.9 527.5 907.9 536.8 883.6 524.0 C859.3 511.2 865.4 513.1 852.0 492.7 C838.6 472.3 845.3 454.6 836.4 452.0 C827.5 449.4 835.3 467.7 820.6 483.7 C805.9 499.7 812.6 497.1 784.6 508.5 C756.6 519.9 744.6 509.4 721.6 524.0 C698.6 538.6 716.4 538.3 703.6 560.0 C690.9 581.7 697.0 584.7 676.6 600.7 C656.2 616.7 664.8 611.4 631.6 616.5 C598.5 621.6 591.5 610.4 559.6 618.7 C527.7 627.0 535.6 624.1 519.0 645.7 C502.4 667.3 517.1 662.6 501.0 695.0 C484.9 727.4 490.1 731.4 462.0 760.0 C433.9 788.6 416.2 767.1 402.0 796.0 C387.8 824.9 426.7 863.7 412.0 862.0 Z" fill="#DDDCDD"/><circle cx="470" cy="945" r="18" fill="#FBBF24"/><circle cx="635" cy="773" r="22" fill="#1a0f0c"/><circle cx="900" cy="745" r="22" fill="#1a0f0c"/><path d="M782 780 L846 900 L790 930" fill="none" stroke="#986B57" stroke-width="4" stroke-linejoin="round" stroke-linecap="round"/><path d="M714 1008 Q800 1026 893 1012 Q860 1066 790 1066 Q740 1060 714 1008 Z" fill="#fff"/></g></g></svg><svg style="position:absolute;left:2086px;top:1332px;" width="400" height="200" viewBox="0 0 400 200"><defs><clipPath id="cav3"><circle cx="1290" cy="1643" r="1253"/></clipPath></defs><g transform="scale(0.15528)"><g clip-path="url(#cav3)"><circle cx="1290" cy="1643" r="1253" fill="#28E9A5"/><path d="M632 1300 Q632 1000 850 760 Q1050 556 1290 556 Q1540 556 1740 760 Q1955 1000 1952 1300 Z" fill="#010B38"/><path d="M636 1300 Q700 1080 870 880 Q1050 690 1260 680 Q1500 688 1700 860 Q1900 1050 1945 1300 Z" fill="#2B3459"/><path d="M855 1300 Q950 1100 1100 1000 Q1200 945 1290 945 Q1400 950 1500 1010 Q1650 1120 1722 1300 Z" fill="#010B38"/><path d="M1000 1300 Q1150 1222 1290 1222 Q1430 1225 1580 1300 Z" fill="#8A5A47"/></g></g></svg><div style="position:absolute;left:2664px;top:483px;width:22px;height:1100px;background:linear-gradient(to right, rgba(9,30,66,0) 0%, rgba(9,30,66,0.035) 40%, rgba(9,30,66,0.12) 100%);"></div><div style="position:absolute;left:2604px;top:396.5px;width:90px;height:84.5px;background:#fff;border-left:2px solid #ECEDF0;"></div><svg style="position:absolute;left:2632.75px;top:426px;" width="25" height="25" viewBox="0 0 25 25"><path d="M12.5 1.2v22.6M1.2 12.5h22.6" stroke="#44546F" stroke-width="2.6" stroke-linecap="round" fill="none"/></svg><div style="position:absolute;left:1003.75px;top:476.5px;width:13px;height:13px;background:#fff;border-radius:50%;"></div><div style="position:absolute;left:1005.75px;top:478.5px;width:9px;height:9px;background:#4C93F7;border-radius:50%;"></div><div style="position:absolute;left:1216.5px;top:697.75px;width:13px;height:13px;background:#fff;border-radius:50%;"></div><div style="position:absolute;left:1218.5px;top:699.75px;width:9px;height:9px;background:#4C93F7;border-radius:50%;"></div><div style="position:absolute;left:1003.75px;top:919.5px;width:13px;height:13px;background:#fff;border-radius:50%;"></div><div style="position:absolute;left:1005.75px;top:921.5px;width:9px;height:9px;background:#4C93F7;border-radius:50%;"></div></div></div>
<div style="position:absolute;left:782.75px;top:680px;width:30px;height:46px;background:#F4F5F7;border-radius:8px;"><svg style="position:absolute;left:0px;top:0px;" width="30" height="46" viewBox="0 0 30 46"><circle cx="10.9" cy="15.6" r="1.9" fill="#626F86"/><circle cx="18.5" cy="15.6" r="1.9" fill="#626F86"/><circle cx="10.9" cy="23.6" r="1.9" fill="#626F86"/><circle cx="18.5" cy="23.6" r="1.9" fill="#626F86"/><circle cx="10.9" cy="31.6" r="1.9" fill="#626F86"/><circle cx="18.5" cy="31.6" r="1.9" fill="#626F86"/></svg></div>
<svg style="position:absolute;left:940px;top:580px;" width="40" height="40" viewBox="940 580 40 40"><path d="M951.2 590.6 L951.2 606.2 L955 603.2 L958.6 610.8 L961.3 609.5 L957.7 602.1 L962.7 601.8 Z" fill="#000" stroke="#fff" stroke-width="2.2" stroke-linejoin="round" paint-order="stroke" style="filter:drop-shadow(0.5px 1px 1px rgba(0,0,0,0.35));"/></svg>
<svg style="position:absolute;left:55px;top:990px;" width="500" height="500" viewBox="0 0 500 500"><g transform="scale(0.34530)"><defs><clipPath id="cwc"><ellipse cx="723.7" cy="720.5" rx="695.3" ry="693.6"/></clipPath><linearGradient id="wbg" x1="0" y1="0.2" x2="1" y2="0.5"><stop offset="0" stop-color="#F1F2F3"/><stop offset="0.5" stop-color="#F4F5F6"/><stop offset="1" stop-color="#F7F8F8"/></linearGradient><radialGradient id="wsk" cx="0.6" cy="0.25" r="0.8"><stop offset="0" stop-color="#F2D8CD"/><stop offset="0.45" stop-color="#E7BFB1"/><stop offset="1" stop-color="#D6A392"/></radialGradient><linearGradient id="whd" x1="0" y1="0" x2="1" y2="1"><stop offset="0" stop-color="#E3B5A2"/><stop offset="0.6" stop-color="#D9A591"/><stop offset="1" stop-color="#C88E7B"/></linearGradient><filter id="wbl" x="-5%" y="-5%" width="110%" height="110%"><feGaussianBlur stdDeviation="2.6"/></filter><filter id="wbl2" x="-10%" y="-10%" width="120%" height="120%"><feGaussianBlur stdDeviation="7"/></filter><filter id="wbl3" x="-60%" y="-60%" width="220%" height="220%"><feGaussianBlur stdDeviation="70"/></filter></defs><g clip-path="url(#cwc)"><g filter="url(#wbl)"><rect x="0" y="0" width="1448" height="1448" fill="url(#wbg)"/><ellipse cx="400" cy="720" rx="230" ry="380" fill="#D9DCE0" opacity="0.85" filter="url(#wbl3)"/><ellipse cx="1230" cy="760" rx="120" ry="220" fill="#E3E5E8" opacity="0.8" filter="url(#wbl3)"/><path d="M150.0 1460.0 C-144.0 1388.6 177.6 1254.8 200.0 1154.0 C222.4 1053.2 219.9 1081.2 246.0 1028.0 C272.1 974.8 278.9 959.1 312.0 926.0 C345.1 892.9 344.4 902.3 388.0 886.0 C431.6 869.7 443.7 869.1 499.0 856.0 C554.3 842.9 588.4 837.0 625.0 830.0 C661.6 823.0 615.2 819.0 656.0 826.0 C696.8 833.0 720.9 857.7 800.0 860.0 C879.1 862.3 923.6 834.6 995.0 836.0 C1066.4 837.4 1044.6 845.0 1106.0 866.0 C1167.4 887.0 1202.5 895.4 1258.0 926.0 C1313.5 956.6 1310.9 961.5 1344.0 997.0 C1377.1 1032.5 1372.9 1030.6 1400.0 1078.0 C1427.1 1125.4 1446.0 1110.9 1460.0 1200.0 C1474.0 1289.1 1765.7 1399.3 1460.0 1460.0 C1154.3 1520.7 444.0 1531.4 150.0 1460.0 Z" fill="#121214"/><path d="M260 1040 Q420 900 640 850 Q460 960 380 1130 Q330 1260 320 1400 L230 1300 Z" fill="#1d1d21" opacity="0.8"/><path d="M655 720 L650 942 Q700 1000 777 1018 Q860 1022 929 988 Q975 950 990 900 L1000 760 Z" fill="#D8A997"/><path d="M655 800 Q760 900 890 880 Q960 870 1000 800 L992 900 Q960 960 929 988 Q860 1022 777 1018 Q700 1000 650 942 Z" fill="#C4907E"/><path d="M894.0 96.0 C920.7 97.9 920.4 99.7 950.0 112.0 C979.6 124.3 978.3 129.2 1005.0 142.0 C1031.7 154.8 1028.4 146.7 1050.0 160.0 C1071.6 173.3 1069.5 174.7 1086.0 192.0 C1102.5 209.3 1101.3 206.1 1112.0 225.0 C1122.7 243.9 1119.1 240.3 1126.0 263.0 C1132.9 285.7 1132.7 285.7 1138.0 310.0 C1143.3 334.3 1141.2 331.3 1146.0 354.0 C1150.8 376.7 1151.2 374.7 1156.0 395.0 C1160.8 415.3 1158.7 410.0 1164.0 430.0 C1169.3 450.0 1170.7 449.7 1176.0 470.0 C1181.3 490.3 1178.7 487.3 1184.0 506.0 C1189.3 524.7 1193.9 520.3 1196.0 540.0 C1198.1 559.7 1196.3 555.5 1192.0 580.0 C1187.7 604.5 1187.5 610.1 1180.0 632.0 C1172.5 653.9 1174.1 648.4 1164.0 662.0 C1153.9 675.6 1154.3 670.7 1142.0 683.0 C1129.7 695.3 1130.3 697.1 1118.0 708.0 C1105.7 718.9 1108.8 714.1 1096.0 724.0 C1083.2 733.9 1084.9 738.1 1070.0 745.0 C1055.1 751.9 1098.7 727.3 1040.0 750.0 C981.3 772.7 954.0 816.7 850.0 830.0 C746.0 843.3 716.7 814.7 650.0 800.0 C583.3 785.3 624.0 788.3 600.0 775.0 C576.0 761.7 584.3 763.6 560.0 750.0 C535.7 736.4 527.9 741.9 509.0 724.0 C490.1 706.1 501.5 700.1 489.0 683.0 C476.5 665.9 472.9 673.6 462.0 660.0 C451.1 646.4 453.9 648.0 448.0 632.0 C442.1 616.0 441.1 616.5 440.0 600.0 C438.9 583.5 438.7 588.4 444.0 570.0 C449.3 551.6 450.9 548.3 460.0 531.0 C469.1 513.7 467.6 518.3 478.0 505.0 C488.4 491.7 490.5 498.3 499.0 481.0 C507.5 463.7 502.0 460.3 510.0 440.0 C518.0 419.7 518.9 425.0 529.0 405.0 C539.1 385.0 538.4 385.3 548.0 365.0 C557.6 344.7 558.6 349.0 565.0 329.0 C571.4 309.0 565.3 310.3 572.0 290.0 C578.7 269.7 581.5 271.7 590.0 253.0 C598.5 234.3 594.7 236.3 604.0 220.0 C613.3 203.7 610.1 205.9 625.0 192.0 C639.9 178.1 639.7 178.7 660.0 168.0 C680.3 157.3 677.0 160.8 701.0 152.0 C725.0 143.2 723.1 141.7 750.0 135.0 C776.9 128.3 775.3 135.0 802.0 127.0 C828.7 119.0 825.5 113.3 850.0 105.0 C874.5 96.7 867.3 94.1 894.0 96.0 Z" fill="#2A2320"/><circle cx="886" cy="89" r="12" fill="#2A2320"/><circle cx="944" cy="119" r="16" fill="#2A2320"/><circle cx="1001" cy="148" r="20" fill="#2A2320"/><circle cx="1048" cy="165" r="13" fill="#2A2320"/><circle cx="1086" cy="196" r="17" fill="#2A2320"/><circle cx="1114" cy="228" r="21" fill="#2A2320"/><circle cx="1130" cy="265" r="14" fill="#2A2320"/><circle cx="1144" cy="311" r="18" fill="#2A2320"/><circle cx="1154" cy="354" r="22" fill="#2A2320"/><circle cx="1149" cy="394" r="15" fill="#2A2320"/><circle cx="1159" cy="428" r="19" fill="#2A2320"/><circle cx="1173" cy="467" r="12" fill="#2A2320"/><circle cx="1183" cy="502" r="16" fill="#2A2320"/><circle cx="1197" cy="535" r="20" fill="#2A2320"/><circle cx="1195" cy="574" r="13" fill="#2A2320"/><circle cx="1185" cy="625" r="17" fill="#2A2320"/><circle cx="1171" cy="669" r="21" fill="#2A2320"/><circle cx="1134" cy="689" r="14" fill="#2A2320"/><circle cx="1112" cy="713" r="18" fill="#2A2320"/><circle cx="1092" cy="728" r="22" fill="#2A2320"/><circle cx="1068" cy="748" r="15" fill="#2A2320"/><circle cx="606" cy="774" r="20" fill="#2A2320"/><circle cx="568" cy="748" r="13" fill="#2A2320"/><circle cx="502" cy="721" r="17" fill="#2A2320"/><circle cx="484" cy="679" r="21" fill="#2A2320"/><circle cx="459" cy="655" r="14" fill="#2A2320"/><circle cx="447" cy="626" r="18" fill="#2A2320"/><circle cx="441" cy="593" r="22" fill="#2A2320"/><circle cx="447" cy="577" r="15" fill="#2A2320"/><circle cx="465" cy="537" r="19" fill="#2A2320"/><circle cx="485" cy="510" r="12" fill="#2A2320"/><circle cx="491" cy="485" r="16" fill="#2A2320"/><circle cx="504" cy="443" r="20" fill="#2A2320"/><circle cx="525" cy="407" r="13" fill="#2A2320"/><circle cx="546" cy="366" r="17" fill="#2A2320"/><circle cx="565" cy="329" r="21" fill="#2A2320"/><circle cx="574" cy="289" r="14" fill="#2A2320"/><circle cx="594" cy="251" r="18" fill="#2A2320"/><circle cx="610" cy="217" r="22" fill="#2A2320"/><circle cx="633" cy="188" r="15" fill="#2A2320"/><circle cx="653" cy="163" r="19" fill="#2A2320"/><circle cx="696" cy="146" r="12" fill="#2A2320"/><circle cx="747" cy="128" r="16" fill="#2A2320"/><circle cx="801" cy="134" r="20" fill="#2A2320"/><circle cx="851" cy="111" r="13" fill="#2A2320"/><path d="M742.0 354.0 C755.3 339.9 753.7 338.3 770.0 325.0 C786.3 311.7 781.7 312.8 803.0 304.0 C824.3 295.2 823.1 296.3 850.0 292.0 C876.9 287.7 874.7 288.0 904.0 288.0 C933.3 288.0 933.1 287.7 960.0 292.0 C986.9 296.3 985.0 296.0 1005.0 304.0 C1025.0 312.0 1021.4 311.3 1035.0 322.0 C1048.6 332.7 1046.7 329.9 1056.0 344.0 C1065.3 358.1 1064.7 358.7 1070.0 375.0 C1075.3 391.3 1073.3 383.7 1076.0 405.0 C1078.7 426.3 1078.7 428.1 1080.0 455.0 C1081.3 481.9 1081.5 478.0 1081.0 506.0 C1080.5 534.0 1080.7 533.1 1078.0 560.0 C1075.3 586.9 1075.3 581.7 1071.0 607.0 C1066.7 632.3 1067.6 630.7 1062.0 655.0 C1056.4 679.3 1057.2 674.0 1050.0 698.0 C1042.8 722.0 1045.7 719.1 1035.0 745.0 C1024.3 770.9 1026.0 769.7 1010.0 795.0 C994.0 820.3 995.0 820.5 975.0 840.0 C955.0 859.5 956.6 858.1 935.0 868.0 C913.4 877.9 916.7 875.9 894.0 877.0 C871.3 878.1 875.1 879.2 850.0 872.0 C824.9 864.8 826.7 865.2 800.0 850.0 C773.3 834.8 775.3 835.0 750.0 815.0 C724.7 795.0 726.3 800.3 705.0 775.0 C683.7 749.7 683.3 750.7 670.0 720.0 C656.7 689.3 658.2 692.0 655.0 660.0 C651.8 628.0 656.4 627.7 658.0 600.0 C659.6 572.3 658.3 582.7 661.0 556.0 C663.7 529.3 665.3 526.9 668.0 500.0 C670.7 473.1 666.5 475.0 671.0 455.0 C675.5 435.0 677.0 438.3 685.0 425.0 C693.0 411.7 691.7 417.5 701.0 405.0 C710.3 392.5 709.1 391.6 720.0 378.0 C730.9 364.4 728.7 368.1 742.0 354.0 Z" fill="url(#wsk)"/><ellipse cx="760" cy="650" rx="70" ry="110" fill="#D9A493" opacity="0.7" filter="url(#wbl2)"/><ellipse cx="1035" cy="620" rx="40" ry="110" fill="#CF9988" opacity="0.7" filter="url(#wbl2)"/><ellipse cx="890" cy="330" rx="120" ry="40" fill="#F4DDD2" opacity="0.7" filter="url(#wbl2)"/><path d="M742 354 Q700 400 680 450 Q660 520 660 600 Q650 700 660 790 L610 780 Q590 650 620 520 Q650 400 720 340 Z" fill="#2A2320"/><path d="M1056 344 Q1080 400 1085 500 Q1085 600 1055 700 L1090 720 Q1130 600 1120 480 Q1110 380 1070 330 Z" fill="#2A2320"/><path d="M742 360 Q800 300 904 284 Q1000 286 1060 348 Q1010 290 905 262 Q790 270 730 350 Z" fill="#2A2320"/><path d="M620 300 Q660 220 760 200" fill="none" stroke="#5A4E49" stroke-width="7" opacity="0.7" stroke-linecap="round"/><path d="M560 450 Q580 380 640 330" fill="none" stroke="#5A4E49" stroke-width="7" opacity="0.7" stroke-linecap="round"/><path d="M700 250 Q790 180 900 170" fill="none" stroke="#5A4E49" stroke-width="7" opacity="0.7" stroke-linecap="round"/><path d="M950 190 Q1030 200 1090 260" fill="none" stroke="#5A4E49" stroke-width="7" opacity="0.7" stroke-linecap="round"/><path d="M1100 330 Q1150 390 1160 470" fill="none" stroke="#5A4E49" stroke-width="7" opacity="0.7" stroke-linecap="round"/><path d="M520 520 Q530 590 600 640" fill="none" stroke="#5A4E49" stroke-width="7" opacity="0.7" stroke-linecap="round"/><path d="M752 432 Q800 408 863 420" stroke="#6E544A" stroke-width="15" fill="none" stroke-linecap="round"/><path d="M975 438 Q1020 428 1070 447" stroke="#6E544A" stroke-width="13" fill="none" stroke-linecap="round"/><ellipse cx="815" cy="505" rx="34" ry="17" fill="#F3E8E3"/><circle cx="813" cy="502" r="15" fill="#4B4A3E"/><ellipse cx="1002" cy="520" rx="30" ry="16" fill="#F3E8E3"/><circle cx="1000" cy="517" r="14" fill="#4A3229"/><path d="M778 497 Q815 478 852 498" stroke="#6a4a40" stroke-width="5" fill="none"/><path d="M970 512 Q1002 496 1034 514" stroke="#6a4a40" stroke-width="5" fill="none"/><path d="M672 452 L756 478" stroke="#16161A" stroke-width="24" stroke-linecap="round"/><path d="M760 470 Q840 462 912 482 Q922 530 905 575 Q880 600 840 597 Q790 590 770 560 Q752 520 760 470 Z" fill="rgba(255,255,255,0.10)" stroke="#16161A" stroke-width="19" stroke-linejoin="round"/><path d="M962 494 Q1030 484 1100 498 Q1108 540 1095 585 Q1075 608 1040 606 Q995 600 975 575 Q955 540 962 494 Z" fill="rgba(255,255,255,0.10)" stroke="#16161A" stroke-width="18" stroke-linejoin="round"/><path d="M912 498 Q938 488 962 502" stroke="#16161A" stroke-width="17" fill="none"/><path d="M925 560 Q905 620 912 645 Q940 662 975 648" stroke="#C58B7A" stroke-width="9" fill="none" stroke-linecap="round" opacity="0.8"/><ellipse cx="950" cy="610" rx="30" ry="40" fill="#EBC3B4" opacity="0.8" filter="url(#wbl)"/><path d="M806 712 Q850 690 895 696 Q940 690 984 706 Q975 750 930 768 Q880 775 840 755 Q815 740 806 712 Z" fill="#B9676B"/><path d="M824 712 Q890 704 968 712 Q950 738 900 742 Q850 738 824 712 Z" fill="#EFE4DF"/><path d="M806 712 Q850 686 895 694 Q940 686 984 706 Q900 706 806 712 Z" fill="#CD8588"/><path d="M840 757 Q890 790 950 760 Q900 778 840 757 Z" fill="#D59A97"/><path d="M720 790 Q800 868 894 878 Q960 872 1012 800 Q960 840 894 845 Q800 840 720 790 Z" fill="#C39482" opacity="0.8"/><path d="M964 1290 Q990 1268 1020 1278 Q1040 1290 1020 1305 L990 1320 L955 1310 Z" fill="#F0C25A"/><path d="M905 1360 L1010 1330 L1040 1360 L930 1400 Z" fill="#F0C25A"/><path d="M780 1385 L890 1360 L900 1395 L830 1430 L770 1430 Z" fill="#3FA564"/><path d="M440 1460 Q458 1351 540 1285 Q600 1230 622 1120 Q640 1040 652 990 Q660 930 676 912 Q700 900 708 925 Q716 960 708 1010 L704 1085 Q800 1040 880 1000 Q920 982 940 1000 Q952 1022 930 1045 Q880 1080 800 1130 Q900 1110 1000 1090 Q1050 1085 1064 1110 Q1068 1140 1035 1155 L860 1222 Q960 1200 1050 1182 Q1095 1180 1104 1206 Q1104 1236 1060 1250 L905 1300 Q980 1290 1040 1290 Q1075 1296 1078 1316 Q1065 1340 1000 1352 Q900 1380 800 1400 L700 1460 Z" fill="url(#whd)"/><path d="M704 1085 Q800 1040 880 1000 Q800 1060 740 1120 Z" fill="#C48A77" opacity="0.7"/><path d="M800 1130 Q900 1110 1000 1090 Q900 1140 830 1180 Z" fill="#C48A77" opacity="0.7"/><path d="M860 1222 Q960 1200 1050 1182 Q960 1225 890 1262 Z" fill="#C48A77" opacity="0.7"/><path d="M905 1300 Q980 1290 1040 1290 Q960 1320 900 1340 Z" fill="#C48A77" opacity="0.6"/><ellipse cx="915" cy="1015" rx="24" ry="17" fill="#F0D3C8" transform="rotate(-25 915 1015)"/><ellipse cx="1036" cy="1124" rx="24" ry="17" fill="#F0D3C8" transform="rotate(-15 1036 1124)"/><ellipse cx="1076" cy="1212" rx="22" ry="16" fill="#F0D3C8" transform="rotate(-12 1076 1212)"/><path d="M652 990 Q640 1040 622 1120 Q660 1060 690 1000 Z" fill="#EBC2B1" opacity="0.7"/></g></g><ellipse cx="723.7" cy="720.5" rx="695.3" ry="693.6" fill="none" stroke="#050F3C" stroke-width="19.7"/></g></svg>
<div style="position:absolute;left:2724px;top:0px;width:2px;height:1532px;background:#000;"></div>
<div style="position:absolute;left:2708.1px;top:6.7px;width:9.2px;height:9.2px;background:#64DD70;border-radius:50%;"></div>
</body></html>
